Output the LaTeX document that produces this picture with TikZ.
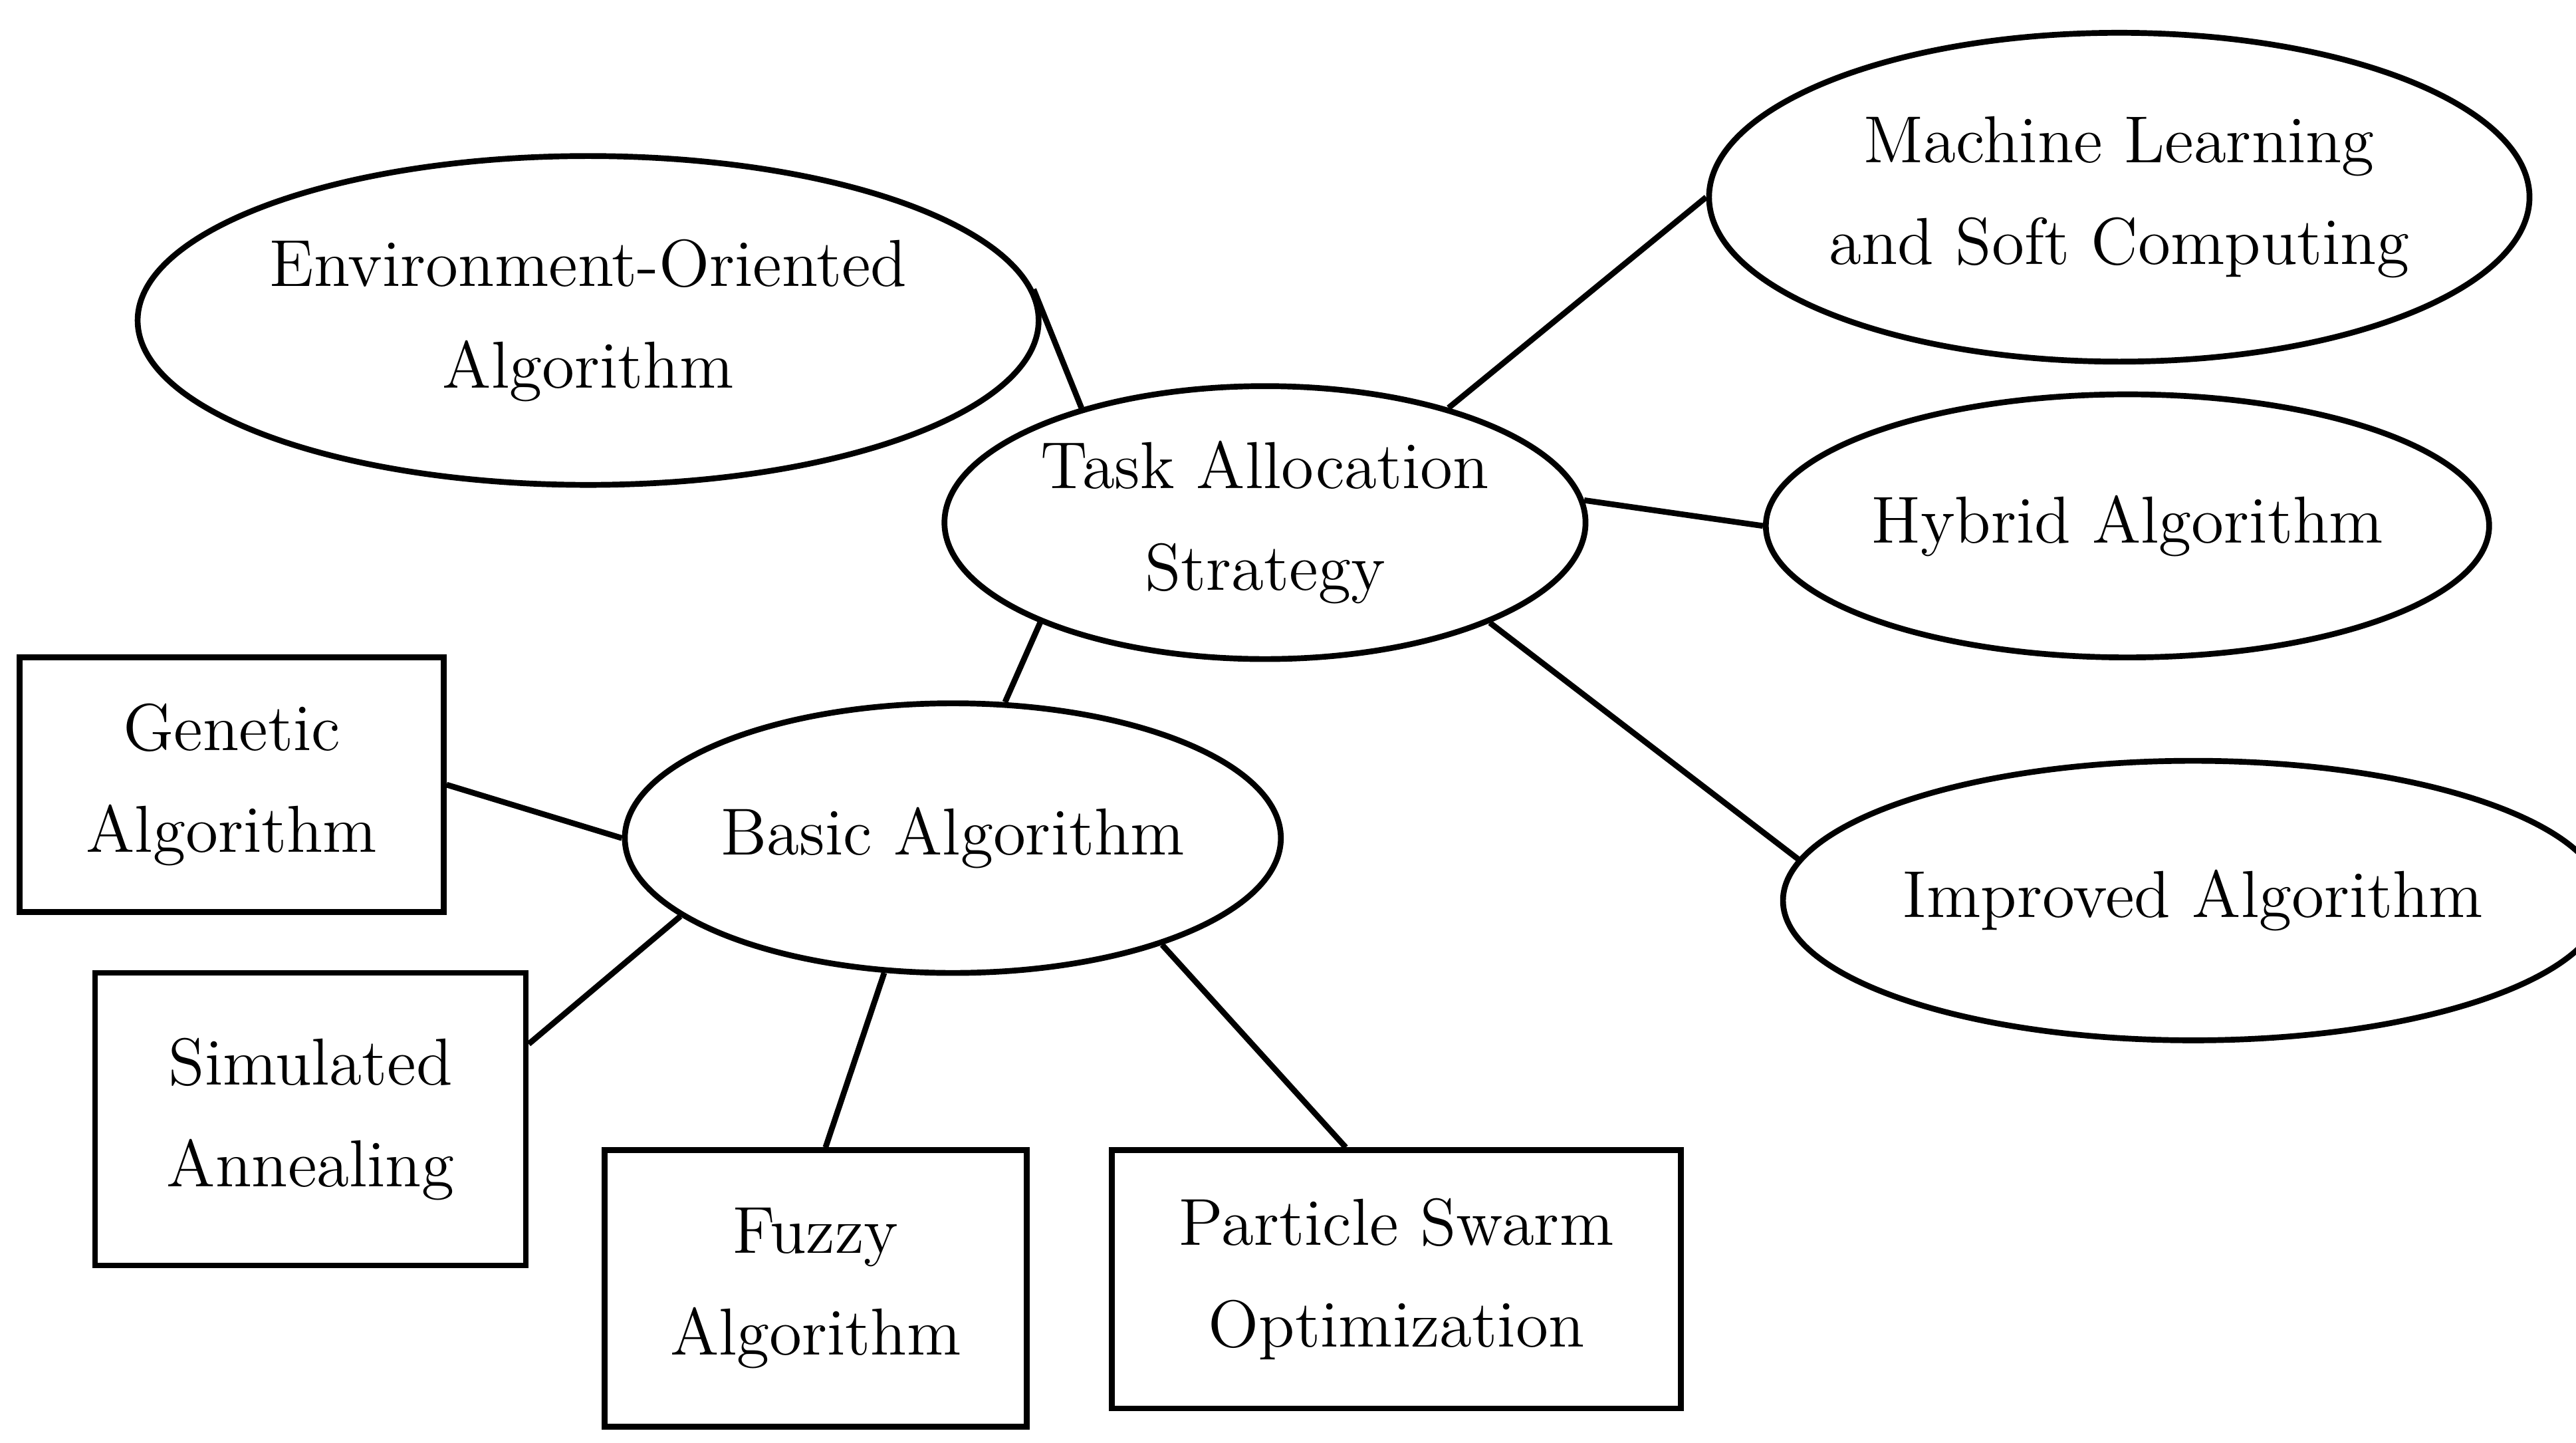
\documentclass[tikz,border=0pt]{standalone}
\usetikzlibrary{shapes.geometric}
\begin{document}
\begin{tikzpicture}[x=0.01cm,y=-0.01cm,
  every node/.style={font=\fontsize{11.5}{17.6}\selectfont, align=center, line width=1pt, inner sep=0pt},
  ell/.style={draw, ellipse},
  box/.style={draw, rectangle},
  every path/.style={line width=1pt}]
\useasboundingbox (0,0) rectangle (1568,878);
\node[ell, minimum width=4.74cm, minimum height=2.00cm] (env) at (358,195) {Environment-Oriented\\Algorithm};
\node[ell, minimum width=3.90cm, minimum height=1.66cm] (task) at (770,318) {Task Allocation\\Strategy};
\node[ell, minimum width=4.84cm, minimum height=2.00cm] (ml) at (1290,120) {Machine Learning\\and Soft Computing};
\node[ell, minimum width=4.34cm, minimum height=1.60cm] (hyb) at (1295,320) {Hybrid Algorithm};
\node[ell, minimum width=4.46cm, minimum height=1.70cm] (imp) at (1335,548) {Improved Algorithm};
\node[ell, minimum width=3.90cm, minimum height=1.64cm] (basic) at (580,510) {Basic Algorithm};
\node[box, minimum width=2.58cm, minimum height=1.55cm] (gen) at (141,477.5) {Genetic\\Algorithm};
\node[box, minimum width=2.62cm, minimum height=1.78cm] (sim) at (189,681) {Simulated\\Annealing};
\node[box, minimum width=2.57cm, minimum height=1.68cm] (fuz) at (496.5,784) {Fuzzy\\Algorithm};
\node[box, minimum width=3.46cm, minimum height=1.57cm] (pso) at (850,778.5) {Particle Swarm\\Optimization};
\draw (env.4) -- (task.148);
\draw (task.32) -- (ml.180);
\draw (task.4) -- (hyb.180);
\draw (task.-24) -- (imp.174);
\draw (task.-156) -- (basic.69);
\draw (basic.180) -- (gen.east);
\draw (basic.-164) -- (sim.19);
\draw (basic.-117) -- (fuz.86);
\draw (basic.-27) -- (pso.111);
\end{tikzpicture}
\end{document}
